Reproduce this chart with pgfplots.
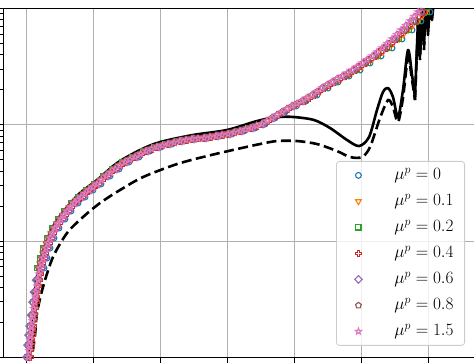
\documentclass[border=0pt]{standalone}
\usepackage{pgfplots}
\usepackage{pgfplotstable}
\pgfplotsset{compat=1.18}
\definecolor{c0}{HTML}{1F77B4}
\definecolor{c1}{HTML}{FF7F0E}
\definecolor{c2}{HTML}{2CA02C}
\definecolor{c3}{HTML}{D62728}
\definecolor{c4}{HTML}{9467BD}
\definecolor{c5}{HTML}{8C564B}
\definecolor{c6}{HTML}{E377C2}
\definecolor{gridgray}{HTML}{B0B0B0}

\pgfdeclareplotmark{Pplus}{%
  \pgfpathmoveto{\pgfqpoint{0.36\pgfplotmarksize}{\pgfplotmarksize}}%
  \pgfpathlineto{\pgfqpoint{-0.36\pgfplotmarksize}{\pgfplotmarksize}}%
  \pgfpathlineto{\pgfqpoint{-0.36\pgfplotmarksize}{0.36\pgfplotmarksize}}%
  \pgfpathlineto{\pgfqpoint{-\pgfplotmarksize}{0.36\pgfplotmarksize}}%
  \pgfpathlineto{\pgfqpoint{-\pgfplotmarksize}{-0.36\pgfplotmarksize}}%
  \pgfpathlineto{\pgfqpoint{-0.36\pgfplotmarksize}{-0.36\pgfplotmarksize}}%
  \pgfpathlineto{\pgfqpoint{-0.36\pgfplotmarksize}{-\pgfplotmarksize}}%
  \pgfpathlineto{\pgfqpoint{0.36\pgfplotmarksize}{-\pgfplotmarksize}}%
  \pgfpathlineto{\pgfqpoint{0.36\pgfplotmarksize}{-0.36\pgfplotmarksize}}%
  \pgfpathlineto{\pgfqpoint{\pgfplotmarksize}{-0.36\pgfplotmarksize}}%
  \pgfpathlineto{\pgfqpoint{\pgfplotmarksize}{0.36\pgfplotmarksize}}%
  \pgfpathlineto{\pgfqpoint{0.36\pgfplotmarksize}{0.36\pgfplotmarksize}}%
  \pgfpathclose
  \pgfusepathqstroke
}
\pgfdeclareplotmark{ostar}{%
  \pgfpathmoveto{\pgfpointpolar{90}{\pgfplotmarksize}}%
  \pgfpathlineto{\pgfpointpolar{126}{0.42\pgfplotmarksize}}%
  \pgfpathlineto{\pgfpointpolar{162}{\pgfplotmarksize}}%
  \pgfpathlineto{\pgfpointpolar{198}{0.42\pgfplotmarksize}}%
  \pgfpathlineto{\pgfpointpolar{234}{\pgfplotmarksize}}%
  \pgfpathlineto{\pgfpointpolar{270}{0.42\pgfplotmarksize}}%
  \pgfpathlineto{\pgfpointpolar{306}{\pgfplotmarksize}}%
  \pgfpathlineto{\pgfpointpolar{342}{0.42\pgfplotmarksize}}%
  \pgfpathlineto{\pgfpointpolar{18}{\pgfplotmarksize}}%
  \pgfpathlineto{\pgfpointpolar{54}{0.42\pgfplotmarksize}}%
  \pgfpathclose
  \pgfusepathqstroke
}

% marker series, set A: common y column, one x column per series
% xb=blue(0) xo=orange(0.1) xg=green(0.2) xr=red(0.4) xp=purple(0.6) xw=brown(0.8) xk=pink(1.5)
\pgfplotstableread{
Y xb xo xg xr xp xw xk
1.004e-3 0.0149 0.0522 0.0224 0.0596 0.0075 0.0447 0.0373
1.273e-3 0.0298 0.0671 0.0373 0.0745 0.0224 0.0596 0.0522
1.552e-3 0.0447 0.0820 0.0522 0.0894 0.0373 0.0745 0.0671
1.855e-3 0.0596 0.0969 0.0671 0.1043 0.0522 0.0894 0.0820
2.306e-3 0.0820 0.1192 0.0894 0.1267 0.0745 0.1118 0.1043
2.983e-3 0.1043 0.1416 0.1118 0.1490 0.0969 0.1341 0.1267
3.636e-3 0.1267 0.1639 0.1341 0.1714 0.1192 0.1565 0.1490
4.611e-3 0.1565 0.1937 0.1639 0.2012 0.1490 0.1863 0.1788
5.848e-3 0.2683 0.1863 0.1714 0.2235 0.2384 0.1863 0.2086
7.128e-3 0.3130 0.2310 0.2161 0.2683 0.2832 0.2310 0.2534
8.688e-3 0.3577 0.2757 0.2608 0.3130 0.3279 0.2757 0.2981
1.059e-2 0.4173 0.3353 0.3204 0.3726 0.3875 0.3353 0.3577
1.291e-2 0.4918 0.4098 0.3949 0.4471 0.4620 0.4098 0.4322
1.543e-2 0.5812 0.4993 0.4843 0.5365 0.5514 0.4993 0.5216
1.808e-2 0.6706 0.5887 0.5738 0.6259 0.6408 0.5887 0.6110
2.118e-2 0.7750 0.6930 0.6781 0.7302 0.7452 0.6930 0.7154
2.385e-2 0.8793 0.7973 0.7824 0.8346 0.8495 0.7973 0.8197
2.740e-2 0.9985 0.9165 0.9016 0.9538 0.9687 0.9165 0.9389
3.085e-2 1.1177 1.0358 1.0209 1.0730 1.0879 1.0358 1.0581
3.615e-2 1.2519 1.1699 1.1550 1.2071 1.2220 1.1699 1.1923
4.152e-2 1.3860 1.3040 1.2891 1.3413 1.3562 1.3040 1.3264
4.769e-2 1.5350 1.4531 1.4381 1.4903 1.5052 1.4531 1.4754
5.265e-2 1.6840 1.6021 1.5872 1.6393 1.6542 1.6021 1.6244
5.929e-2 1.8480 1.7660 1.7511 1.8033 1.8182 1.7660 1.7884
6.418e-2 2.0119 1.9300 1.9150 1.9672 1.9821 1.9300 1.9523
6.811e-2 2.1758 2.0939 2.0790 2.1311 2.1460 2.0939 2.1162
7.228e-2 2.3547 2.2727 2.2578 2.3100 2.3249 2.2727 2.2951
7.519e-2 2.5335 2.4516 2.4367 2.4888 2.5037 2.4516 2.4739
7.670e-2 2.7124 2.6304 2.6155 2.6677 2.6826 2.6304 2.6528
7.980e-2 2.8912 2.8093 2.7943 2.8465 2.8614 2.8093 2.8316
8.302e-2 3.0700 2.9881 2.9732 3.0253 3.0403 2.9881 3.0104
8.809e-2 3.2489 3.1669 3.1520 3.2042 3.2191 3.1669 3.1893
9.349e-2 3.4128 3.3308 3.3159 3.3681 3.3830 3.3308 3.3532
0.1012 3.5618 3.5320 3.5320 3.5320 3.5320 3.5171 3.5171
0.1140 3.7108 3.6811 3.6811 3.6811 3.6811 3.6662 3.6662
0.1283 3.8599 3.8301 3.8301 3.8301 3.8301 3.8152 3.8152
0.1445 4.0238 3.9940 3.9940 3.9791 3.9791 3.9642 3.9642
0.1596 4.1728 4.1430 4.1430 4.1430 4.1281 4.1133 4.1133
0.1797 4.3368 4.3070 4.3070 4.2921 4.2772 4.2623 4.2623
0.2064 4.5007 4.4560 4.4560 4.4411 4.4262 4.4113 4.4113
0.2324 4.6497 4.6199 4.6199 4.5901 4.5901 4.5604 4.5604
0.2617 4.8137 4.7690 4.7839 4.7541 4.7392 4.7243 4.7094
0.2948 4.9776 4.9329 4.9329 4.9031 4.8882 4.8733 4.8584
0.3386 5.1266 5.0819 5.0968 5.0521 5.0372 5.0223 5.0075
0.3889 5.2906 5.2459 5.2459 5.2012 5.1862 5.1713 5.1565
0.4557 5.4545 5.3949 5.4098 5.3651 5.3353 5.3204 5.3055
0.5445 5.6035 5.5588 5.5588 5.5141 5.4992 5.4694 5.4545
0.6508 5.7526 5.6929 5.7078 5.6482 5.6333 5.6035 5.5887
0.7777 5.8866 5.8420 5.8420 5.7973 5.7675 5.7377 5.7228
0.9293 6.0208 5.9612 5.9761 5.9165 5.8866 5.8569 5.8420
1.089 6.1251 6.0655 6.0804 6.0208 5.9910 5.9761 5.9464
1.276 6.2443 6.1847 6.1847 6.1251 6.0953 6.0804 6.0507
}\mtab

% marker series, set B: points lying between those of set A
\pgfplotstableread{
Y xo xr xw xk
1.139e-3 0.0597 0.0672 0.0522 0.0448
1.413e-3 0.0746 0.0821 0.0671 0.0597
1.704e-3 0.0895 0.0970 0.0821 0.0746
2.070e-3 0.1081 0.1156 0.1007 0.0932
2.623e-3 0.1304 0.1379 0.1230 0.1155
3.293e-3 0.1528 0.1603 0.1454 0.1379
4.095e-3 0.1788 0.1863 0.1714 0.1639
5.193e-3 0.2086 0.2161 0.2012 0.1937
6.456e-3 0.2086 0.2459 0.2086 0.2310
7.869e-3 0.2534 0.2907 0.2534 0.2758
9.592e-3 0.3055 0.3428 0.3055 0.3279
1.1693e-2 0.3726 0.4099 0.3726 0.3950
1.4114e-2 0.4545 0.4918 0.4545 0.4769
1.6703e-2 0.5439 0.5812 0.5439 0.5663
1.9569e-2 0.6408 0.6781 0.6408 0.6632
2.2475e-2 0.7452 0.7825 0.7452 0.7676
2.5564e-2 0.8569 0.8942 0.8569 0.8793
2.9074e-2 0.9761 1.0134 0.9761 0.9985
3.3395e-2 1.1028 1.1401 1.1028 1.1252
3.8742e-2 1.2370 1.2743 1.2370 1.2594
4.4498e-2 1.3785 1.4158 1.3785 1.4009
5.0109e-2 1.5275 1.5648 1.5275 1.5499
5.5872e-2 1.6840 1.7213 1.6840 1.7064
6.1686e-2 1.8480 1.8853 1.8480 1.8704
6.6116e-2 2.0119 2.0492 2.0119 2.0343
7.0164e-2 2.1833 2.2206 2.1833 2.2057
7.3720e-2 2.3621 2.3994 2.3621 2.3845
7.5941e-2 2.5410 2.5783 2.5410 2.5634
7.8235e-2 2.7198 2.7571 2.7198 2.7422
8.1394e-2 2.8986 2.9359 2.8986 2.9210
8.5517e-2 3.0775 3.1148 3.0775 3.0999
9.0750e-2 3.2489 3.2862 3.2489 3.2713
9.7268e-2 3.4128 3.4501 3.4128 3.4352
0.10741 3.6066 3.6066 3.5917 3.5917
0.12094 3.7556 3.7556 3.7407 3.7407
0.13616 3.9046 3.9046 3.8897 3.8897
0.15186 4.0686 4.0537 4.0388 4.0388
0.16935 4.2176 4.2176 4.1878 4.1878
0.19259 4.3815 4.3666 4.3368 4.3368
0.21902 4.5306 4.5157 4.4859 4.4859
0.24662 4.6945 4.6647 4.6349 4.6349
0.27776 4.8435 4.8286 4.7988 4.7839
0.31594 5.0075 4.9777 4.9479 4.9330
0.36288 5.1565 5.1267 5.0969 5.0820
0.42098 5.3204 5.2757 5.2459 5.2310
0.49813 5.4694 5.4396 5.3949 5.3800
0.59528 5.6259 5.5812 5.5365 5.5216
0.71142 5.7601 5.7154 5.6707 5.6558
0.85013 5.9016 5.8569 5.7973 5.7824
1.0060 6.0134 5.9687 5.9091 5.8942
1.1788 6.1178 6.0731 6.0284 5.9986
}\mtabB

\begin{document}
\begin{tikzpicture}
\useasboundingbox (-4pt,-5.7pt) rectangle (470pt,357.3pt);
\begin{axis}[
  scale only axis, width=480pt, height=349pt,
  xmin=-0.3279, xmax=6.8256,
  ymode=log, ymin=1e-3, ymax=1,
  xtick={0,1,2,3,4,5,6}, ytick={1e-3,1e-2,1e-1,1},
  xticklabels={}, yticklabels={},
  grid=major,
  major grid style={draw=gridgray, line width=0.9pt},
  tick align=outside, tick pos=left,
  major tick length=6pt, minor tick length=3.5pt,
  every tick/.style={black, line width=0.8pt},
  axis line style={line width=1pt},
  legend cell align=left,
  legend image code/.code={%
    \path[draw=none,fill=none] (0pt,-1pt) rectangle (30pt,1pt);
    \draw[mark repeat=2,mark phase=2,#1] plot coordinates {(0pt,0pt) (11pt,0pt) (30pt,0pt)};},
  legend style={at={(0.9604,0.5625)}, anchor=north east,
    draw=black!20, line width=0.8pt, rounded corners=3pt,
    fill=white, fill opacity=0.8, text opacity=1,
    font=\fontsize{17.28}{20}\selectfont,
    inner xsep=11pt, inner ysep=6pt, row sep=10pt,
    nodes={inner sep=0pt, text height=12pt, text depth=4pt},
    /tikz/every odd column/.append style={column sep=17pt}},
]
% black reference curves
\addplot[black, line width=2.6pt, smooth, tension=0.5, line join=round, forget plot] coordinates {
(0.020,8.5e-4) (0.030,1.004e-3) (0.060,1.552e-3) (0.089,2.089e-3) (0.134,3.784e-3)
(0.209,6.457e-3) (0.313,1.019e-2) (0.432,1.426e-2) (0.611,1.954e-2) (0.805,2.582e-2)
(1.058,3.342e-2) (1.356,4.677e-2) (1.699,6.053e-2) (1.997,7.079e-2) (2.489,8.147e-2)
(2.996,8.995e-2) (3.443,0.1074) (3.741,0.1162) (3.994,0.1162) (4.292,0.1096)
(4.531,9.354e-2) (4.784,7.379e-2) (4.963,6.546e-2) (5.112,7.816e-2) (5.231,0.1337)
(5.320,0.1905) (5.395,0.2064) (5.469,0.1726) (5.544,0.1162) (5.618,0.1986)
(5.693,0.4380) (5.753,0.2670) (5.797,0.1726)};
\addplot[black, line width=2.6pt, line join=round, forget plot] coordinates {
(5.797,0.1726) (5.842,0.793) (5.872,0.3967) (5.902,1.067) (5.931,0.4835)
(5.961,1.18) (5.991,0.589) (6.021,1.13) (6.051,0.793) (6.080,1.2)};
\addplot[black, line width=2.6pt, dash pattern=on 10pt off 4.5pt, smooth, tension=0.5, forget plot] coordinates {
(0.070,8.5e-4) (0.089,1.004e-3) (0.134,1.552e-3) (0.164,2.399e-3) (0.253,4.014e-3)
(0.402,7.271e-3) (0.611,1.169e-2) (0.849,1.605e-2) (1.103,2.118e-2) (1.401,2.740e-2)
(1.744,3.543e-2) (2.250,4.581e-2) (2.697,5.370e-2) (3.145,6.168e-2) (3.487,6.811e-2)
(3.741,7.228e-2) (4.039,7.228e-2) (4.337,6.811e-2) (4.635,5.929e-2) (4.829,5.265e-2)
(5.007,5.265e-2) (5.127,6.419e-2) (5.276,0.1140) (5.395,0.1627) (5.469,0.1416)
(5.544,0.1053) (5.618,0.1693) (5.693,0.3738) (5.753,0.2417) (5.797,0.1627)};
\addplot[black, line width=2.6pt, dash pattern=on 10pt off 4.5pt, forget plot] coordinates {
(5.797,0.1627) (5.842,0.7185) (5.872,0.3592) (5.902,1.0) (5.931,0.438) (5.961,1.18)};
% marker series
\addplot[only marks, line width=1.1pt, color=c0, mark=o, mark size=2.9pt] table[x=xb,y=Y]{\mtab};
\addlegendentry{$\mu^p = 0$}
\addplot[only marks, line width=1.1pt, color=c1, mark=triangle, mark size=3.3pt, mark options={rotate=180}] table[x=xo,y=Y]{\mtab};
\addlegendentry{$\mu^p = 0.1$}
\addplot[only marks, line width=1.1pt, color=c1, mark=triangle, mark size=3.3pt, mark options={rotate=180}, forget plot] table[x=xo,y=Y]{\mtabB};
\addplot[only marks, line width=1.1pt, color=c2, mark=square, mark size=2.6pt] table[x=xg,y=Y]{\mtab};
\addlegendentry{$\mu^p = 0.2$}
\addplot[only marks, line width=1.1pt, color=c3, mark=Pplus, mark size=3.1pt] table[x=xr,y=Y]{\mtab};
\addlegendentry{$\mu^p = 0.4$}
\addplot[only marks, line width=1.1pt, color=c3, mark=Pplus, mark size=3.1pt, forget plot] table[x=xr,y=Y]{\mtabB};
\addplot[only marks, line width=1.1pt, color=c4, mark=diamond, mark size=3.8pt, mark options={xscale=1.3}] table[x=xp,y=Y]{\mtab};
\addlegendentry{$\mu^p = 0.6$}
\addplot[only marks, line width=1.1pt, color=c5, mark=pentagon, mark size=3.0pt] table[x=xw,y=Y]{\mtab};
\addlegendentry{$\mu^p = 0.8$}
\addplot[only marks, line width=1.1pt, color=c5, mark=pentagon, mark size=3.0pt, forget plot] table[x=xw,y=Y]{\mtabB};
\addplot[only marks, line width=1.1pt, color=c6, mark=ostar, mark size=3.3pt] table[x=xk,y=Y]{\mtab};
\addlegendentry{$\mu^p = 1.5$}
\addplot[only marks, line width=1.1pt, color=c6, mark=ostar, mark size=3.3pt, forget plot] table[x=xk,y=Y]{\mtabB};
\end{axis}
\end{tikzpicture}
\end{document}
